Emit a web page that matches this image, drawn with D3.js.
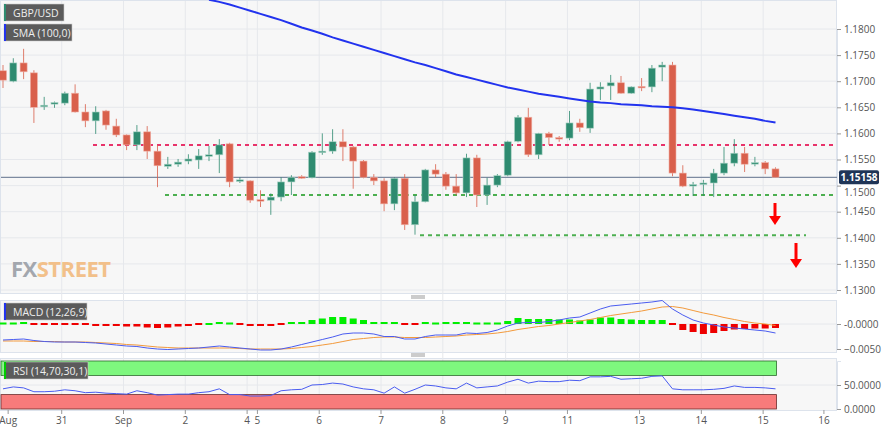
<!DOCTYPE html>
<html>
<head>
<meta charset="utf-8">
<script src="https://cdn.jsdelivr.net/npm/d3@7"></script>
<style>
body { margin: 0; background: #fff; font-family: "Open Sans", "Liberation Sans", sans-serif; }
svg text { font-family: "Open Sans", "Liberation Sans", sans-serif; }
</style>
</head>
<body>
<svg id="chart" width="890" height="430"></svg>
<script>
// 4h candles, GBP/USD
const opens  = [1.1720,1.1700,1.1735,1.1716,1.1651,1.1657,1.1658,1.1677,1.1641,1.1624,1.1643,1.1614,1.1597,1.1578,1.1603,1.1566,1.1537,1.1541,1.1547,1.1549,1.1557,1.1559,1.1580,1.1510,1.1509,1.1473,1.1472,1.1478,1.1507,1.1517,1.1515,1.1564,1.1566,1.1584,1.1574,1.1547,1.1516,1.1509,1.1465,1.1514,1.1425,1.1469,1.1530,1.1522,1.1499,1.1486,1.1553,1.1482,1.1501,1.1520,1.1585,1.1631,1.1559,1.1600,1.1592,1.1591,1.1620,1.1610,1.1685,1.1691,1.1697,1.1677,1.1690,1.1689,1.1727,1.1731,1.1524,1.1500,1.1503,1.1505,1.1524,1.1543,1.1562,1.1542,1.1544,1.1532];
const highs  = [1.1731,1.1744,1.1762,1.1721,1.1670,1.1661,1.1680,1.1694,1.1656,1.1652,1.1645,1.1628,1.1598,1.1616,1.1614,1.1578,1.1555,1.1551,1.1560,1.1570,1.1576,1.1589,1.1582,1.1516,1.1510,1.1491,1.1485,1.1516,1.1520,1.1520,1.1566,1.1600,1.1608,1.1608,1.1576,1.1549,1.1522,1.1514,1.1516,1.1522,1.1482,1.1532,1.1541,1.1526,1.1522,1.1561,1.1559,1.1515,1.1522,1.1586,1.1635,1.1649,1.1601,1.1603,1.1595,1.1643,1.1628,1.1697,1.1698,1.1712,1.1710,1.1690,1.1706,1.1731,1.1737,1.1737,1.1539,1.1507,1.1511,1.1532,1.1574,1.1589,1.1574,1.1555,1.1547,1.1535];
const lows   = [1.1687,1.1698,1.1704,1.1620,1.1645,1.1649,1.1654,1.1640,1.1612,1.1599,1.1607,1.1593,1.1568,1.1568,1.1551,1.1497,1.1532,1.1536,1.1541,1.1532,1.1547,1.1524,1.1497,1.1505,1.1467,1.1459,1.1444,1.1470,1.1482,1.1513,1.1514,1.1559,1.1561,1.1547,1.1494,1.1514,1.1501,1.1451,1.1453,1.1415,1.1406,1.1468,1.1516,1.1492,1.1482,1.1478,1.1459,1.1463,1.1497,1.1518,1.1583,1.1555,1.1551,1.1578,1.1584,1.1587,1.1603,1.1601,1.1664,1.1664,1.1676,1.1676,1.1681,1.1679,1.1700,1.1518,1.1497,1.1480,1.1480,1.1478,1.1520,1.1537,1.1526,1.1537,1.1522,1.1515];
const closes = [1.1702,1.1735,1.1718,1.1650,1.1654,1.1659,1.1677,1.1641,1.1624,1.1641,1.1616,1.1597,1.1578,1.1603,1.1566,1.1538,1.1541,1.1545,1.1551,1.1557,1.1559,1.1578,1.1507,1.1511,1.1472,1.1472,1.1478,1.1507,1.1516,1.1515,1.1564,1.1566,1.1584,1.1574,1.1547,1.1516,1.1509,1.1465,1.1514,1.1425,1.1469,1.1530,1.1522,1.1499,1.1486,1.1553,1.1482,1.1501,1.1519,1.1584,1.1631,1.1559,1.1600,1.1592,1.1590,1.1620,1.1611,1.1685,1.1689,1.1697,1.1677,1.1689,1.1688,1.1725,1.1731,1.1524,1.1499,1.1502,1.1505,1.1524,1.1543,1.1562,1.1541,1.1544,1.1532,1.1516];

// SMA(100) visible from candle 20
const smaStart = 20;
const sma100 = [1.1856,1.1852,1.1847,1.1841,1.1835,1.1829,1.1823,1.1817,1.1810,1.1803,1.1797,1.1791,1.1784,1.1778,1.1772,1.1766,1.1760,1.1754,1.1748,1.1742,1.1736,1.1731,1.1725,1.1719,1.1713,1.1708,1.1703,1.1698,1.1693,1.1688,1.1684,1.1680,1.1676,1.1673,1.1670,1.1667,1.1664,1.1661,1.1659,1.1658,1.1656,1.1655,1.1654,1.1652,1.1651,1.1650,1.1648,1.1646,1.1643,1.1640,1.1637,1.1634,1.1631,1.1628,1.1624,1.1621];

const macdLine = [-0.0032,-0.0031,-0.0030,-0.0033,-0.0035,-0.0036,-0.0036,-0.0036,-0.0037,-0.0038,-0.0040,-0.0042,-0.0044,-0.0045,-0.0048,-0.0050,-0.0051,-0.0050,-0.0049,-0.0048,-0.0046,-0.0044,-0.0046,-0.0048,-0.0050,-0.0052,-0.0052,-0.0050,-0.0046,-0.0041,-0.0036,-0.0031,-0.0026,-0.0020,-0.0018,-0.0018,-0.0020,-0.0025,-0.0025,-0.0030,-0.0030,-0.0025,-0.0022,-0.0022,-0.0022,-0.0018,-0.0019,-0.0017,-0.0012,-0.0004,0.0002,0.0003,0.0003,0.0005,0.0008,0.0012,0.0014,0.0022,0.0030,0.0036,0.0038,0.0040,0.0042,0.0044,0.0047,0.0030,0.0018,0.0008,0.0002,-0.0002,-0.0006,-0.0008,-0.0010,-0.0012,-0.0014,-0.0018];
const macdSignal = [-0.0034,-0.0034,-0.0034,-0.0035,-0.0035,-0.0035,-0.0036,-0.0036,-0.0036,-0.0037,-0.0038,-0.0039,-0.0041,-0.0042,-0.0044,-0.0046,-0.0047,-0.0048,-0.0048,-0.0048,-0.0048,-0.0048,-0.0048,-0.0049,-0.0050,-0.0050,-0.0050,-0.0050,-0.0049,-0.0047,-0.0045,-0.0042,-0.0039,-0.0035,-0.0031,-0.0029,-0.0027,-0.0026,-0.0026,-0.0027,-0.0027,-0.0027,-0.0026,-0.0025,-0.0024,-0.0022,-0.0021,-0.0020,-0.0018,-0.0015,-0.0011,-0.0008,-0.0005,-0.0003,0.0000,0.0003,0.0006,0.0009,0.0013,0.0017,0.0020,0.0023,0.0026,0.0030,0.0034,0.0035,0.0032,0.0027,0.0022,0.0018,0.0013,0.0009,0.0005,0.0002,0.0000,-0.0003];
const macdHist = [0.0003,0.0003,0.0004,-0.0002,-0.0002,-0.0002,-0.0002,-0.0002,-0.0002,-0.0003,-0.0003,-0.0004,-0.0005,-0.0005,-0.0007,-0.0008,-0.0007,-0.0005,-0.0003,-0.0001,0.0000,0.0002,0.0001,-0.0002,-0.0003,-0.0003,-0.0003,-0.0001,0.0002,0.0004,0.0008,0.0011,0.0014,0.0014,0.0011,0.0008,0.0004,0.0002,0.0002,-0.0002,-0.0002,0.0002,0.0003,0.0002,0.0002,0.0002,0.0003,0.0003,0.0003,0.0006,0.0012,0.0010,0.0010,0.0010,0.0009,0.0009,0.0007,0.0009,0.0013,0.0013,0.0010,0.0009,0.0008,0.0008,0.0008,-0.0002,-0.0012,-0.0016,-0.0020,-0.0018,-0.0014,-0.0011,-0.0010,-0.0009,-0.0009,-0.0008];

const rsi = [42,46,44,36,36,37,40,38,34,35,33,32,31,38,34,29,30,31,31,34,36,42,30,30,27,27,28,38,40,41,50,51,54,52,46,42,40,33,46,33,41,50,48,44,42,54,44,46,48,56,62,54,58,57,57,60,59,67,67,68,62,63,64,68,69,42,40,40,40,41,43,48,45,45,44,42];

const priceTicks = [1.18,1.175,1.17,1.165,1.16,1.155,1.15,1.145,1.14,1.135,1.13];
const macdTicks = [0, -0.005];
const rsiTicks = [50, 0];
const dayLabels = ["Aug","31","Sep","2","4","5","6","7","8","9","11","13","14","15","16"];
const dayPos = [0.5,5.7,11.7,17.7,23.7,24.7,30.7,36.7,42.7,48.8,54.8,61.8,67.8,73.8,79.7];

const resistance = 1.1578, support1 = 1.1482, support2 = 1.1405, lastPrice = 1.15158;

const svg = d3.select("#chart");
const W = 837;
const x = d3.scaleLinear().domain([0, 75]).range([3, 775.5]);
const y = d3.scaleLinear().domain([1.13, 1.18]).range([290, 29]);
const ym = d3.scaleLinear().domain([-0.005, 0]).range([349, 324]);
const yr = d3.scaleLinear().domain([0, 100]).range([409, 361]);
const gridC = "#e6e8ec", borderC = "#dde3ec", txtC = "#555";

// panel backgrounds
[[0, 0, 293], [0, 300, 52], [0, 358, 52]].forEach(p => {
  svg.append("rect").attr("x", 0.5).attr("y", p[1] + 0.5).attr("width", W - 1).attr("height", p[2])
    .attr("fill", "#f7f7f7").attr("stroke", borderC);
});
// separator handles
[296, 354].forEach(v => {
  [0, 2].forEach(o => svg.append("line").attr("x1", 411).attr("x2", 425).attr("y1", v + o).attr("y2", v + o)
    .attr("stroke", "#999").attr("stroke-width", 1));
});

// vertical grid
svg.append("g").selectAll("line").data(dayPos.slice(1, -1)).enter().append("line")
  .attr("x1", d => x(d)).attr("x2", d => x(d)).attr("y1", 1).attr("y2", 409)
  .attr("stroke", gridC).attr("stroke-width", 1);

// axes on the right
const pa = svg.append("g").attr("transform", `translate(${W},0)`)
  .call(d3.axisRight(y).tickValues(priceTicks).tickFormat(d3.format(".4f")).tickSize(4));
const ma = svg.append("g").attr("transform", `translate(${W},0)`)
  .call(d3.axisRight(ym).tickValues(macdTicks).tickFormat(d => (d === 0 ? "-0.0000" : d3.format(".4f")(d))).tickSize(4));
const ra = svg.append("g").attr("transform", `translate(${W},0)`)
  .call(d3.axisRight(yr).tickValues(rsiTicks).tickFormat(d3.format(".4f")).tickSize(4));
[pa, ma, ra].forEach(a => {
  a.select(".domain").attr("stroke", borderC);
  a.selectAll(".tick line").attr("stroke", "#999");
  a.selectAll(".tick text").attr("fill", txtC).attr("font-size", 10);
});
// 1.1500 label sits under the last price tag, as in the source; nudge it down a bit
pa.selectAll(".tick").filter(d => d === 1.15).select("text").attr("dy", "0.95em");

// horizontal grid
svg.append("g").selectAll("line").data(priceTicks).enter().append("line")
  .attr("x1", 1).attr("x2", W - 1).attr("y1", d => y(d)).attr("y2", d => y(d)).attr("stroke", gridC);
svg.append("line").attr("x1", 1).attr("x2", W - 1).attr("y1", ym(0)).attr("y2", ym(0)).attr("stroke", gridC);
svg.append("line").attr("x1", 1).attr("x2", W - 1).attr("y1", yr(50)).attr("y2", yr(50)).attr("stroke", gridC);

// x axis labels
svg.append("g").selectAll("text").data(dayLabels).enter().append("text")
  .attr("x", (d, i) => x(dayPos[i])).attr("y", 424).attr("text-anchor", "middle")
  .attr("font-size", 10).attr("fill", txtC).text(d => d);
svg.append("g").selectAll("line").data(dayPos).enter().append("line")
  .attr("x1", d => x(d)).attr("x2", d => x(d)).attr("y1", 410).attr("y2", 414).attr("stroke", "#999");

// watermark
const wm = svg.append("text").attr("x", 11).attr("y", 277).attr("font-size", 22).attr("font-weight", "bold")
  .attr("font-family", "Roboto, sans-serif").attr("letter-spacing", -0.5);
wm.append("tspan").attr("fill", "#a3a7ae").text("FX");
wm.append("tspan").attr("fill", "#f2c08a").text("STREET");

// level lines
const lvl = (p, x0, x1, c) => svg.append("line").attr("x1", x0).attr("x2", x1).attr("y1", y(p)).attr("y2", y(p))
  .attr("stroke", c).attr("stroke-width", 2).attr("stroke-dasharray", "4,4");
lvl(resistance, 93, W - 1, "#e8336a");
lvl(support1, 165, W - 1, "#4caf50");
lvl(support2, 420, 806, "#4caf50");

// current price line
svg.append("line").attr("x1", 1).attr("x2", W).attr("y1", y(lastPrice)).attr("y2", y(lastPrice))
  .attr("stroke", "#7d8aa0").attr("stroke-width", 1.3);

// candles
const idx = d3.range(opens.length);
const cg = svg.append("g");
idx.forEach(i => {
  const up = closes[i] >= opens[i];
  const c = up ? "#2e8b70" : "#d9604c";
  cg.append("line").attr("x1", x(i)).attr("x2", x(i)).attr("y1", y(highs[i])).attr("y2", y(lows[i]))
    .attr("stroke", c).attr("stroke-width", 1).attr("opacity", 0.8);
  const top = y(Math.max(opens[i], closes[i])), bot = y(Math.min(opens[i], closes[i]));
  cg.append("rect").attr("x", x(i) - 3.5).attr("width", 7).attr("y", top).attr("height", Math.max(1.5, bot - top))
    .attr("fill", c).attr("stroke", up ? "#a8d2c4" : "#f0b0a5").attr("stroke-width", 0.6);
});

// SMA
svg.append("path").datum(sma100).attr("fill", "none").attr("stroke", "#2233ee").attr("stroke-width", 2)
  .attr("d", d3.line().x((d, i) => x(i + smaStart)).y(d => y(d)));

// arrows
[[775, 203, 225], [796, 243, 268]].forEach(a => {
  svg.append("line").attr("x1", a[0]).attr("x2", a[0]).attr("y1", a[1]).attr("y2", a[2] - 7)
    .attr("stroke", "#f00").attr("stroke-width", 3);
  svg.append("path").attr("d", `M${a[0] - 6},${a[2] - 9}L${a[0] + 6},${a[2] - 9}L${a[0]},${a[2]}Z`).attr("fill", "#f00");
});

// last price label
svg.append("rect").attr("x", W + 2).attr("y", y(lastPrice) - 7).attr("width", 40).attr("height", 14).attr("rx", 2)
  .attr("fill", "#1f3557");
svg.append("text").attr("x", W + 22).attr("y", y(lastPrice) + 4).attr("text-anchor", "middle")
  .attr("font-size", 10).attr("font-weight", "bold").attr("fill", "#fff").text(d3.format(".5f")(lastPrice));

// MACD
svg.append("g").selectAll("rect").data(macdHist).enter().append("rect")
  .attr("x", (d, i) => x(i) - 3.5).attr("width", 7)
  .attr("y", d => Math.min(ym(d), ym(0)) - (Math.abs(d) < 0.00025 ? 1 : 0))
  .attr("height", d => Math.max(2, Math.abs(ym(d) - ym(0))))
  .attr("fill", d => d >= 0 ? "#00ee00" : "#ee0000");
svg.append("path").datum(macdSignal).attr("fill", "none").attr("stroke", "#f39a3c").attr("stroke-width", 1)
  .attr("d", d3.line().x((d, i) => x(i)).y(d => ym(d)));
svg.append("path").datum(macdLine).attr("fill", "none").attr("stroke", "#4a5cf0").attr("stroke-width", 1)
  .attr("d", d3.line().x((d, i) => x(i)).y(d => ym(d)));

// RSI bands
svg.append("rect").attr("x", 1).attr("width", x(75)).attr("y", yr(100)).attr("height", yr(70) - yr(100))
  .attr("fill", "#7ef77e").attr("stroke", "#2d6b2d").attr("stroke-width", 0.8);
svg.append("rect").attr("x", 1).attr("width", x(75)).attr("y", yr(30)).attr("height", yr(0) - yr(30))
  .attr("fill", "#f87b7b").attr("stroke", "#6b2d2d").attr("stroke-width", 0.8);
svg.append("path").datum(rsi).attr("fill", "none").attr("stroke", "#4a5cf0").attr("stroke-width", 1)
  .attr("d", d3.line().x((d, i) => x(i)).y(d => yr(d)));

// legend boxes
const legend = (x0, y0, w, label, bar) => {
  svg.append("rect").attr("x", x0).attr("y", y0).attr("width", w).attr("height", 17).attr("fill", "#5b5b5b")
    .attr("stroke", "#ccc").attr("stroke-width", 0.6);
  svg.append("rect").attr("x", x0).attr("y", y0).attr("width", 2).attr("height", 17).attr("fill", bar);
  svg.append("text").attr("x", x0 + 9).attr("y", y0 + 12.5).attr("font-size", 10.5).attr("fill", "#eee").text(label);
};
legend(4, 4, 60, "GBP/USD", "#2e8b70");
legend(4, 24, 68, "SMA (100,0)", "#2233ee");
legend(4, 303, 83, "MACD (12,26,9)", "#2233ee");
legend(4, 362, 84, "RSI (14,70,30,1)", "#00cc00");
</script>
</body>
</html>
